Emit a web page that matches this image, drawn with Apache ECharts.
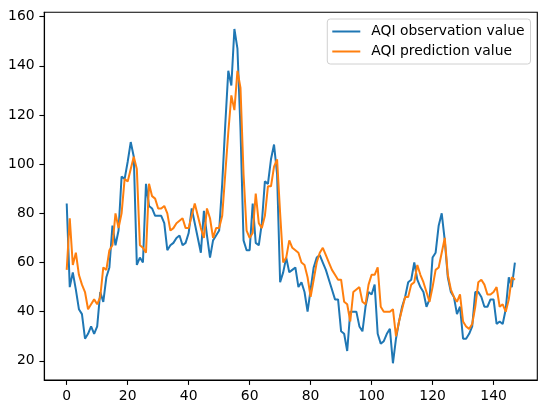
<!DOCTYPE html>
<html>
<head>
<meta charset="utf-8">
<script src="https://cdn.jsdelivr.net/npm/echarts@6/dist/echarts.min.js"></script>
<style>
html,body{margin:0;padding:0;background:#fff;}
#chart{width:550px;height:413px;}
</style>
</head>
<body>
<div id="chart"></div>
<script>
const seriesNames = ['AQI observation value', 'AQI prediction value'];
const xTicks = [0, 20, 40, 60, 80, 100, 120, 140];
const yTicks = [20, 40, 60, 80, 100, 120, 140, 160];

const observation = [
  84, 50, 56, 49, 41, 39, 29, 31, 34, 31,
  34, 48, 44, 54, 58, 75, 67, 73, 95, 94,
  101, 109, 103, 59, 62, 60, 92, 83, 82, 79,
  79, 79, 76, 65, 67, 68, 70, 71, 67, 68,
  72, 82, 76, 70, 64, 81, 71, 62, 69, 71,
  73, 92, 116, 138, 132, 155, 147, 114, 69, 65,
  65, 84, 68, 67, 76, 93, 92, 102, 108, 96,
  52, 56, 62, 56, 57, 58, 50, 52, 48, 40,
  49, 58, 62, 63, 60, 57, 53, 49, 45, 45,
  32, 31, 24, 40, 40, 40, 34, 32, 42, 48,
  47, 51, 31, 27, 28, 31, 33, 19, 29, 36,
  42, 46, 52, 53, 60, 53, 50, 48, 42, 45,
  62, 64, 75, 80, 69, 54, 48, 46, 39, 42,
  29, 29, 31, 34, 48, 48, 46, 42, 42, 45,
  45, 35, 36, 35, 41, 54, 50, 60
];

const prediction = [
  57, 78, 59, 64, 55, 51, 48, 41, 43, 45,
  43, 46, 58, 57, 65, 67, 80, 74, 80, 94,
  93, 98, 103, 98, 67, 66, 64, 92, 87, 86,
  82, 82, 83, 80, 73, 74, 76, 77, 78, 74,
  74, 79, 84, 79, 74, 70, 82, 78, 70, 74,
  74, 79, 96, 113, 128, 122, 138, 131, 96, 73,
  70, 72, 88, 76, 74, 79, 91, 91, 99, 102,
  80, 60, 62, 69, 66, 65, 64, 60, 59, 54,
  46, 53, 60, 64, 66, 63, 60, 57, 55, 53,
  53, 44, 43, 36, 48, 49, 50, 44, 43, 51,
  55, 55, 58, 42, 40, 40, 40, 41, 30, 36,
  41, 46, 46, 51, 52, 59, 55, 52, 48, 44,
  50, 57, 58, 64, 70, 55, 49, 46, 44, 47,
  36, 34, 33, 35, 42, 52, 53, 51, 47, 47,
  48, 50, 42, 43, 40, 45, 54, 53
];

const toPairs = arr => arr.map((v, i) => [i, v]);

const font = 'DejaVu Sans';
const chart = echarts.init(document.getElementById('chart'), null, {renderer: 'canvas'});
chart.setOption({
  animation: false,
  backgroundColor: '#ffffff',
  grid: {
    left: 44.3, right: 12.7, top: 12.3, bottom: 33,
    show: true, borderColor: '#000', borderWidth: 1.1,
    containLabel: false, outerBoundsMode: 'none'
  },
  legend: {
    data: seriesNames,
    orient: 'vertical',
    right: 19.5,
    top: 19,
    icon: 'rect',
    itemWidth: 28,
    itemHeight: 2,
    itemGap: 5,
    padding: [5, 6, 5, 5],
    borderColor: '#d0d0d0',
    borderWidth: 1,
    borderRadius: 3,
    backgroundColor: '#ffffff',
    textStyle: {fontFamily: font, fontSize: 13.9, color: '#000', lineHeight: 15, padding: [0, 0, 0, 6]}
  },
  xAxis: {
    type: 'value',
    min: -7.35,
    max: 154.35,
    splitLine: {show: false},
    axisLine: {show: true, onZero: false, lineStyle: {color: '#000', width: 1.1}},
    axisTick: {show: true, inside: false, length: 4.9, customValues: xTicks, lineStyle: {color: '#000', width: 1.1}},
    axisLabel: {show: true, margin: 9.7, customValues: xTicks, fontFamily: font, fontSize: 13.9, color: '#000'}
  },
  yAxis: {
    type: 'value',
    min: 12.2,
    max: 161.8,
    splitLine: {show: false},
    axisLine: {show: true, onZero: false, lineStyle: {color: '#000', width: 1.1}},
    axisTick: {show: true, inside: false, length: 4.9, customValues: yTicks, lineStyle: {color: '#000', width: 1.1}},
    axisLabel: {show: true, margin: 9.7, customValues: yTicks, fontFamily: font, fontSize: 13.9, color: '#000'}
  },
  series: [
    {
      name: seriesNames[0],
      type: 'line',
      data: toPairs(observation),
      symbol: 'none',
      color: '#1f77b4',
      lineStyle: {color: '#1f77b4', width: 2},
      z: 2
    },
    {
      name: seriesNames[1],
      type: 'line',
      data: toPairs(prediction),
      symbol: 'none',
      color: '#ff7f0e',
      lineStyle: {color: '#ff7f0e', width: 2},
      z: 3
    }
  ]
});
</script>
</body>
</html>
